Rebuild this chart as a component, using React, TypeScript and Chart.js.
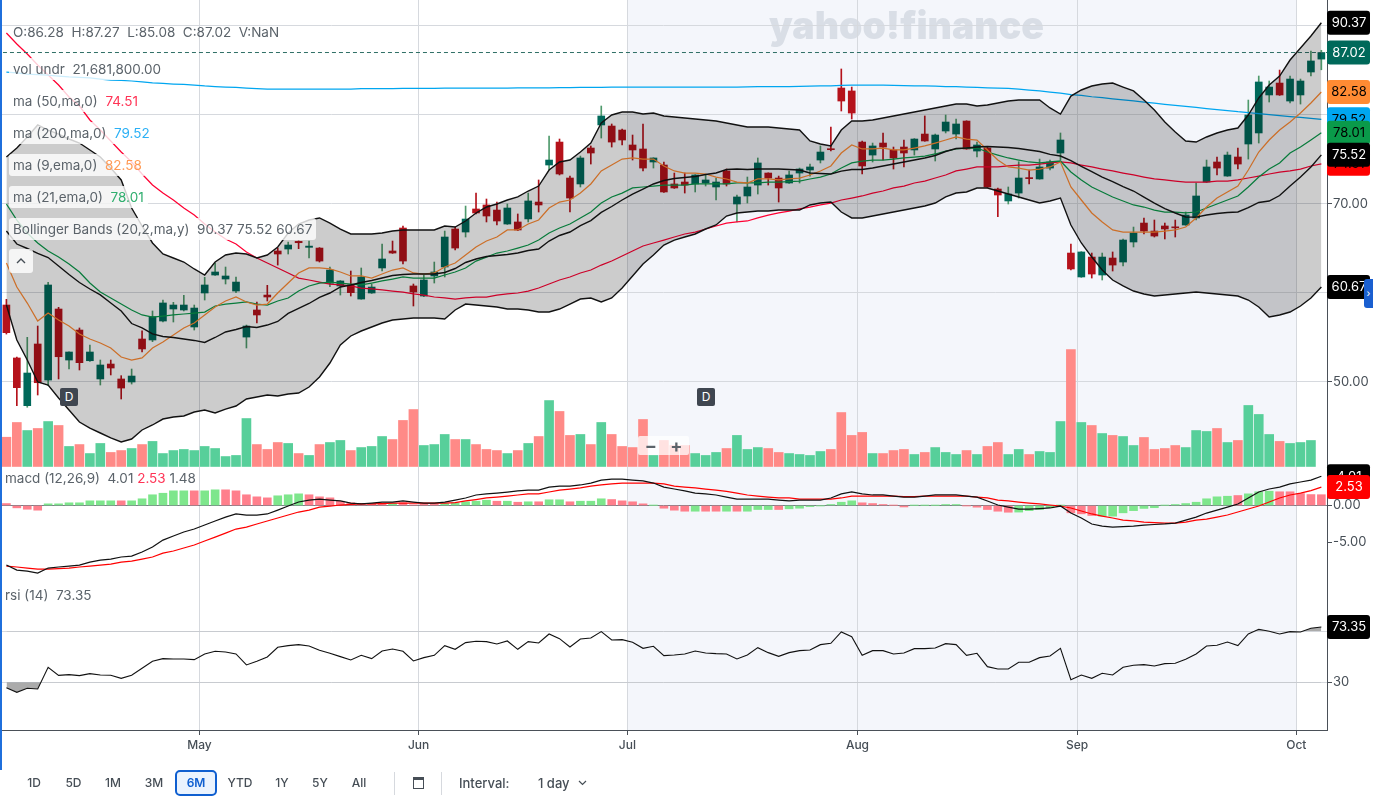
import React, { useEffect, useRef } from 'react';
import { Chart, registerables } from 'chart.js';

Chart.register(...registerables);

const FONT = 'Inter, "Noto Sans", sans-serif';

const opens = [
  58.65, 52.7, 47.34, 54.27, 50.22, 58.2, 52.47, 55.84, 52.39, 50.34,
  52.02, 50.34, 50.0, 54.83, 54.72, 56.85, 58.2, 58.09, 56.18, 60.0,
  62.02, 61.57, 60.22, 55.05, 58.09, 59.77, 64.72, 64.94, 65.8, 65.13,
  65.05, 61.09, 60.79, 60.9, 59.32, 60.0, 62.81, 64.72, 67.3, 60.79,
  59.66, 61.91, 62.92, 67.19, 66.85, 69.44, 69.89, 69.32, 67.75, 67.98,
  68.32, 70.22, 74.38, 76.96, 72.92, 72.25, 76.29, 78.88, 78.76, 78.31,
  76.63, 76.18, 74.72, 74.38, 72.25, 72.47, 72.25, 72.36, 71.91, 73.71,
  70.0, 70.9, 72.13, 73.48, 72.92, 72.36, 73.48, 73.82, 74.94, 76.19,
  83.03, 82.7, 76.96, 75.5, 76.85, 76.07, 76.4, 76.07, 77.86, 76.18,
  78.2, 77.86, 79.32, 75.95, 76.29, 71.68, 70.34, 71.23, 72.92, 72.81,
  74.04, 75.73, 64.49, 61.8, 64.04, 62.02, 63.93, 63.48, 65.73, 67.86,
  66.96, 67.53, 67.36, 67.64, 68.43, 72.47, 74.72, 73.14, 75.28, 76.74,
  77.98, 82.25, 83.59, 81.57, 82.25, 84.83, 86.28,
];
const highs = [
  59.29, 52.8, 55.02, 56.29, 61.2, 58.39, 53.4, 56.07, 54.16, 52.47,
  52.47, 50.71, 51.46, 55.76, 57.98, 59.21, 58.95, 59.74, 58.65, 61.76,
  63.37, 62.92, 61.8, 56.4, 58.99, 60.86, 65.05, 65.72, 65.85, 65.84,
  65.1, 62.92, 61.4, 62.47, 62.81, 60.98, 65.5, 65.84, 67.53, 61.01,
  62.02, 63.48, 66.96, 67.42, 69.77, 71.23, 70.56, 70.22, 70.0, 68.88,
  71.23, 72.7, 77.64, 77.3, 73.14, 75.39, 76.52, 81.01, 78.99, 78.43,
  77.75, 78.99, 75.2, 74.72, 73.48, 73.48, 73.3, 73.26, 72.92, 73.93,
  71.01, 73.03, 75.17, 73.5, 73.14, 73.71, 74.04, 74.49, 76.52, 78.65,
  85.17, 83.14, 77.08, 76.85, 77.98, 76.4, 77.19, 77.35, 79.89, 77.86,
  80.0, 79.55, 79.35, 76.96, 76.4, 71.8, 71.91, 74.75, 73.82, 75.05,
  74.94, 77.98, 65.5, 64.65, 64.49, 64.49, 64.61, 66.07, 67.41, 68.43,
  68.2, 67.86, 68.2, 69.1, 72.36, 74.94, 75.28, 75.84, 76.29, 81.68,
  84.38, 83.82, 85.05, 84.38, 84.04, 87.19, 87.27,
];
const lows = [
  55.39, 47.34, 47.16, 48.54, 49.58, 50.34, 51.46, 51.35, 52.3, 49.66,
  50.79, 48.09, 49.77, 53.37, 54.53, 56.74, 56.74, 57.98, 55.84, 59.21,
  61.97, 61.01, 60.04, 53.82, 56.63, 59.1, 63.14, 64.38, 64.98, 63.93,
  63.48, 60.71, 59.77, 59.66, 59.3, 59.95, 62.47, 64.45, 63.26, 58.54,
  59.6, 61.12, 61.8, 64.83, 66.29, 68.88, 67.98, 67.64, 67.7, 67.0,
  67.98, 69.1, 73.82, 73.26, 69.1, 71.91, 74.49, 77.41, 76.4, 76.63,
  74.94, 73.71, 74.04, 71.3, 71.75, 71.23, 71.35, 72.02, 70.45, 72.02,
  67.98, 70.11, 71.12, 72.13, 70.22, 72.3, 72.36, 73.14, 74.61, 75.95,
  80.45, 79.55, 73.37, 74.72, 74.94, 73.93, 74.16, 75.5, 77.05, 74.83,
  77.98, 77.3, 76.15, 75.28, 71.85, 68.57, 70.0, 70.67, 72.25, 72.78,
  73.82, 74.94, 62.58, 61.75, 61.68, 61.46, 62.47, 63.03, 65.17, 66.63,
  66.29, 66.07, 66.29, 67.6, 68.2, 72.4, 73.26, 73.1, 73.93, 75.05,
  76.85, 81.46, 82.2, 81.35, 81.23, 84.38, 85.08,
];
const closes = [
  55.54, 49.36, 51.01, 49.92, 60.9, 52.84, 53.37, 52.17, 53.37, 51.91,
  51.57, 49.32, 50.67, 53.71, 57.34, 58.88, 58.65, 58.65, 58.31, 60.9,
  62.36, 61.91, 61.23, 56.29, 57.53, 59.55, 64.38, 65.39, 65.65, 65.27,
  63.59, 62.58, 61.35, 60.04, 61.8, 60.67, 63.82, 64.49, 63.59, 60.11,
  61.46, 62.36, 66.29, 65.05, 68.31, 68.99, 68.65, 68.09, 69.55, 67.08,
  70.34, 69.89, 74.94, 73.37, 70.67, 75.17, 75.73, 79.89, 76.96, 77.19,
  76.07, 74.04, 75.17, 71.35, 71.8, 72.13, 73.26, 72.7, 72.47, 72.25,
  70.79, 71.91, 74.61, 72.92, 71.8, 73.26, 73.93, 74.16, 75.84, 76.1,
  81.57, 80.22, 74.27, 76.52, 76.4, 75.17, 75.73, 77.3, 77.08, 77.75,
  79.21, 78.99, 76.18, 76.63, 71.91, 71.01, 71.12, 72.92, 72.85, 74.16,
  74.72, 77.19, 62.7, 64.61, 62.13, 64.04, 63.14, 65.95, 66.74, 66.96,
  66.4, 67.19, 67.32, 68.76, 70.9, 74.16, 74.04, 75.5, 74.49, 80.0,
  83.71, 83.14, 82.25, 84.04, 83.82, 86.07, 87.02,
];

const bbUpper = [
  75.28, 76.29, 77.53, 78.88, 78.31, 77.86, 77.3, 76.85, 76.07, 75.28,
  74.04, 72.7, 69.55, 67.53, 65.62, 64.38, 63.93, 63.48, 62.7, 62.02,
  63.48, 64.27, 64.49, 64.38, 63.93, 64.27, 65.17, 66.74, 67.75, 68.2,
  68.43, 67.86, 67.19, 66.63, 66.63, 66.63, 66.74, 66.96, 67.08, 67.08,
  67.08, 67.08, 67.53, 67.41, 68.09, 68.99, 69.66, 70.0, 70.45, 70.79,
  71.46, 72.02, 73.82, 74.72, 74.94, 75.84, 76.85, 79.1, 80.0, 80.34,
  80.34, 80.11, 80.22, 79.89, 79.77, 79.66, 79.55, 79.44, 79.32, 79.1,
  78.88, 78.65, 78.65, 78.65, 78.54, 78.43, 78.31, 77.08, 76.74, 76.52,
  78.31, 79.32, 79.32, 79.44, 79.66, 79.89, 80.11, 80.34, 80.56, 80.79,
  81.01, 81.23, 81.23, 81.01, 81.12, 81.35, 81.57, 81.68, 81.68, 81.68,
  80.79, 80.11, 82.13, 82.81, 83.26, 83.48, 83.59, 83.14, 82.7, 81.68,
  80.56, 79.21, 78.09, 77.08, 76.96, 77.53, 77.98, 78.31, 78.54, 80.0,
  81.91, 83.37, 84.38, 86.18, 87.53, 88.87, 90.37,
];
const bbMiddle = [
  66.97, 65.5, 65.0, 64.44, 63.98, 63.03, 62.08, 61.18, 60.45, 59.78,
  58.88, 57.98, 56.57, 56.07, 55.4, 55.11, 55.0, 54.83, 54.67, 54.44,
  55.0, 55.62, 55.9, 56.24, 56.12, 56.4, 56.8, 57.7, 58.26, 58.82,
  59.5, 60.0, 60.68, 60.9, 61.18, 61.4, 61.68, 61.96, 62.08, 62.14,
  62.14, 62.14, 62.3, 62.75, 63.43, 63.82, 64.1, 64.22, 64.33, 64.5,
  64.78, 64.94, 65.84, 66.46, 66.85, 67.58, 68.14, 69.05, 69.72, 70.45,
  71.12, 71.68, 72.25, 72.64, 72.86, 72.98, 73.09, 73.32, 73.48, 73.88,
  73.94, 73.88, 73.93, 73.93, 73.93, 73.88, 73.82, 73.48, 73.43, 73.37,
  73.7, 73.88, 73.88, 74.05, 74.27, 74.5, 74.72, 74.95, 75.17, 75.45,
  75.9, 76.23, 76.29, 76.4, 76.46, 76.4, 76.35, 76.23, 76.07, 75.9,
  75.57, 75.39, 74.88, 74.22, 73.65, 73.03, 72.52, 71.96, 71.46, 70.78,
  70.11, 69.49, 68.99, 68.54, 68.53, 68.76, 68.93, 69.04, 69.1, 69.6,
  70.17, 70.33, 70.95, 72.02, 73.03, 74.15, 75.52,
];
const bbLower = [
  58.65, 54.72, 52.47, 50.0, 49.66, 48.2, 46.85, 45.5, 44.83, 44.27,
  43.71, 43.26, 43.59, 44.61, 45.17, 45.84, 46.07, 46.18, 46.63, 46.85,
  46.52, 46.96, 47.3, 48.09, 48.31, 48.54, 48.43, 48.65, 48.76, 49.44,
  50.56, 52.13, 54.16, 55.17, 55.73, 56.18, 56.63, 56.96, 57.08, 57.19,
  57.19, 57.19, 57.08, 58.09, 58.76, 58.65, 58.54, 58.43, 58.2, 58.2,
  58.09, 57.86, 57.86, 58.2, 58.76, 59.32, 59.44, 58.99, 59.44, 60.56,
  61.91, 63.26, 64.27, 65.39, 65.95, 66.29, 66.63, 67.19, 67.64, 68.65,
  68.99, 69.1, 69.21, 69.21, 69.32, 69.32, 69.32, 69.89, 70.11, 70.22,
  69.1, 68.43, 68.43, 68.65, 68.88, 69.1, 69.32, 69.55, 69.77, 70.11,
  70.79, 71.23, 71.35, 71.8, 71.8, 71.46, 71.12, 70.79, 70.45, 70.11,
  70.34, 70.67, 67.64, 65.62, 64.04, 62.58, 61.46, 60.79, 60.22, 59.89,
  59.66, 59.77, 59.89, 60.0, 60.11, 60.0, 59.89, 59.77, 59.66, 59.21,
  58.43, 57.3, 57.53, 57.86, 58.54, 59.44, 60.67,
];
const ma50 = [
  89.21, 87.98, 86.85, 85.62, 84.49, 83.37, 82.02, 81.01, 79.44, 78.31,
  77.08, 75.84, 74.72, 73.37, 72.13, 71.23, 70.45, 69.55, 68.76, 67.75,
  66.85, 66.07, 65.5, 64.61, 63.93, 63.37, 62.81, 62.25, 61.68, 61.46,
  61.23, 61.01, 60.9, 60.79, 60.56, 60.45, 60.34, 60.22, 60.11, 59.89,
  59.77, 59.55, 59.44, 59.32, 59.44, 59.55, 59.55, 59.77, 59.89, 60.0,
  60.22, 60.56, 61.01, 61.46, 61.8, 62.25, 62.58, 63.14, 63.59, 64.16,
  64.72, 65.28, 65.62, 65.95, 66.29, 66.63, 66.85, 67.19, 67.53, 67.86,
  67.98, 68.09, 68.43, 68.76, 68.99, 69.21, 69.44, 69.66, 69.89, 70.11,
  70.45, 70.67, 70.9, 71.23, 71.46, 71.8, 72.02, 72.36, 72.58, 72.92,
  73.26, 73.71, 73.93, 74.16, 74.16, 74.16, 74.27, 74.38, 74.38, 74.49,
  74.61, 74.72, 74.61, 74.38, 74.16, 73.93, 73.71, 73.48, 73.26, 73.03,
  72.81, 72.7, 72.58, 72.47, 72.47, 72.47, 72.58, 72.58, 72.7, 72.92,
  73.14, 73.37, 73.59, 73.71, 73.93, 74.27, 74.51,
];
const ma200 = [
  84.83, 84.72, 84.6, 84.55, 84.49, 84.38, 84.27, 84.22, 84.16, 84.04,
  83.93, 83.88, 83.82, 83.71, 83.6, 83.54, 83.48, 83.43, 83.37, 83.26,
  83.2, 83.14, 83.09, 83.03, 82.97, 82.92, 82.92, 82.92, 82.92, 82.92,
  82.92, 82.92, 82.92, 82.92, 82.95, 82.95, 82.97, 82.97, 83.0, 83.0,
  83.0, 83.0, 83.03, 83.03, 83.03, 83.03, 83.03, 83.03, 83.03, 83.05,
  83.05, 83.05, 83.05, 83.07, 83.07, 83.09, 83.09, 83.1, 83.12, 83.14,
  83.14, 83.14, 83.14, 83.14, 83.14, 83.14, 83.14, 83.14, 83.14, 83.14,
  83.14, 83.16, 83.18, 83.18, 83.2, 83.2, 83.22, 83.24, 83.26, 83.28,
  83.32, 83.35, 83.37, 83.37, 83.35, 83.32, 83.3, 83.28, 83.26, 83.24,
  83.2, 83.18, 83.14, 83.1, 83.06, 83.03, 82.98, 82.9, 82.8, 82.7,
  82.58, 82.47, 82.3, 82.2, 82.05, 81.95, 81.82, 81.7, 81.6, 81.45,
  81.33, 81.2, 81.08, 80.97, 80.85, 80.72, 80.6, 80.5, 80.37, 80.28,
  80.15, 80.03, 79.92, 79.82, 79.72, 79.62, 79.52,
];
const ema9 = [
  63.37, 60.67, 58.87, 56.85, 57.75, 56.96, 56.29, 55.39, 54.83, 54.38,
  53.82, 52.81, 52.47, 52.7, 53.82, 54.49, 55.28, 56.07, 56.63, 57.53,
  58.43, 59.1, 59.55, 58.99, 58.65, 58.76, 60.0, 61.12, 62.25, 62.81,
  62.81, 62.7, 62.36, 61.91, 61.91, 61.68, 62.13, 62.58, 62.81, 62.25,
  62.13, 62.25, 62.92, 63.37, 64.27, 65.17, 65.84, 66.29, 67.08, 67.08,
  67.75, 68.2, 69.55, 70.22, 70.45, 71.23, 72.25, 73.71, 74.38, 75.05,
  75.17, 75.05, 75.05, 74.27, 73.71, 73.48, 73.48, 73.37, 73.03, 72.81,
  72.47, 72.36, 72.81, 72.81, 72.7, 72.81, 72.92, 73.26, 73.71, 74.27,
  75.73, 76.63, 76.18, 76.18, 76.29, 76.07, 76.07, 76.29, 76.52, 76.85,
  77.19, 77.53, 77.3, 77.19, 76.07, 74.94, 74.16, 74.04, 73.82, 73.93,
  74.16, 74.72, 71.91, 70.45, 68.99, 67.98, 67.08, 66.85, 66.85, 66.85,
  66.85, 66.96, 67.08, 67.41, 68.43, 69.66, 70.67, 71.35, 72.02, 73.82,
  75.84, 77.19, 78.31, 79.21, 80.22, 81.35, 82.58,
];
const ema21 = [
  70.0, 68.2, 66.74, 65.62, 64.72, 64.04, 63.26, 62.36, 61.12, 60.11,
  59.44, 58.76, 58.09, 57.53, 57.3, 57.41, 57.53, 57.64, 57.75, 57.86,
  58.54, 58.76, 58.87, 58.99, 58.76, 58.65, 59.1, 59.44, 60.22, 60.79,
  61.12, 61.23, 61.12, 61.01, 60.9, 61.12, 61.35, 61.57, 61.8, 61.68,
  61.68, 61.68, 62.02, 62.36, 62.81, 63.59, 64.04, 64.49, 64.72, 65.05,
  65.39, 65.95, 66.74, 67.3, 67.75, 68.43, 69.1, 70.11, 70.79, 71.23,
  71.8, 71.91, 72.02, 72.13, 72.13, 72.13, 72.25, 72.25, 72.25, 72.25,
  72.36, 72.36, 72.36, 72.47, 72.47, 72.52, 72.58, 72.81, 73.03, 73.37,
  74.04, 74.61, 74.83, 74.94, 74.94, 75.05, 75.17, 75.28, 75.39, 75.62,
  75.95, 76.18, 76.29, 76.29, 75.84, 75.5, 75.17, 74.94, 74.72, 74.61,
  74.72, 74.83, 73.59, 72.7, 71.91, 71.35, 70.79, 70.34, 69.89, 69.66,
  69.32, 69.1, 69.1, 68.99, 69.1, 69.55, 70.0, 70.45, 70.9, 71.91,
  73.03, 73.93, 74.61, 75.73, 76.4, 77.19, 78.01,
];

// millions of shares, the last session has no volume yet
const volumes = [
  24.4, 36.7, 30.0, 31.7, 37.5, 34.2, 16.7, 18.3, 10.8, 19.2,
  11.7, 13.3, 15.0, 18.3, 20.9, 10.8, 13.3, 14.2, 13.3, 16.7,
  15.0, 8.3, 9.2, 40.0, 18.3, 14.2, 20.0, 19.2, 10.8, 9.2,
  18.3, 20.0, 21.7, 13.3, 15.8, 16.7, 25.0, 22.5, 38.4, 47.5,
  17.5, 18.3, 26.7, 22.5, 22.5, 18.3, 14.2, 13.3, 10.8, 13.3,
  19.2, 25.0, 55.0, 45.9, 25.9, 26.7, 18.3, 36.7, 26.7, 16.7,
  15.8, 39.2, 9.2, 21.7, 17.5, 17.5, 10.8, 9.2, 11.7, 15.0,
  25.9, 14.2, 15.8, 15.0, 11.7, 10.8, 10.0, 9.2, 12.5, 14.2,
  45.0, 25.9, 28.4, 10.8, 10.8, 13.3, 14.2, 10.0, 11.7, 15.8,
  11.7, 10.0, 13.3, 10.0, 16.7, 20.0, 10.0, 14.2, 10.0, 12.5,
  11.7, 37.5, 97.6, 36.7, 34.2, 27.5, 25.9, 25.0, 17.5, 24.2,
  14.2, 15.0, 17.5, 15.8, 30.0, 29.2, 31.7, 20.0, 21.7, 50.9,
  43.4, 26.7, 20.9, 19.2, 20.0, 21.68, null,
];

const macdLine = [
  -8.15, -8.84, -8.97, -9.25, -8.56, -8.42, -8.29, -8.15, -7.74, -7.47,
  -7.33, -7.05, -6.92, -6.37, -5.68, -4.73, -4.18, -3.63, -3.22, -2.67,
  -2.12, -1.58, -1.16, -1.3, -1.3, -1.16, -0.62, -0.07, 0.48, 0.75,
  0.89, 0.75, 0.62, 0.34, 0.21, 0.34, 0.48, 0.48, 0.62, 0.48,
  0.34, 0.34, 0.48, 0.75, 1.03, 1.44, 1.58, 1.71, 1.85, 1.99,
  2.12, 2.12, 2.53, 2.67, 2.67, 2.81, 3.08, 3.49, 3.63, 3.63,
  3.49, 3.36, 3.08, 2.53, 2.26, 1.99, 1.71, 1.58, 1.44, 1.16,
  0.89, 0.89, 0.89, 0.89, 0.75, 0.62, 0.75, 0.75, 0.75, 1.03,
  1.58, 1.85, 1.58, 1.44, 1.44, 1.3, 1.16, 1.16, 1.3, 1.44,
  1.44, 1.44, 1.3, 1.16, 0.62, 0.07, -0.21, -0.48, -0.48, -0.41,
  -0.34, -0.07, -1.03, -1.71, -2.53, -2.81, -2.95, -2.88, -2.81, -2.67,
  -2.6, -2.53, -2.4, -1.99, -1.58, -1.03, -0.62, -0.21, 0.21, 1.03,
  1.85, 2.26, 2.53, 2.95, 3.22, 3.49, 4.01,
];
const macdSignal = [
  -8.29, -8.42, -8.56, -8.7, -8.7, -8.63, -8.56, -8.42, -8.29, -8.15,
  -8.01, -7.74, -7.6, -7.33, -7.05, -6.51, -6.23, -5.82, -5.41, -4.86,
  -4.32, -3.77, -3.22, -2.95, -2.53, -2.12, -1.71, -1.3, -0.89, -0.62,
  -0.21, -0.07, 0.07, 0.14, 0.21, 0.21, 0.27, 0.34, 0.34, 0.34,
  0.34, 0.34, 0.34, 0.41, 0.62, 0.82, 1.03, 1.16, 1.3, 1.44,
  1.58, 1.58, 1.85, 2.12, 2.26, 2.4, 2.67, 2.81, 2.95, 3.08,
  3.08, 3.08, 3.08, 2.95, 2.67, 2.53, 2.4, 2.26, 2.12, 1.92,
  1.71, 1.44, 1.3, 1.16, 1.03, 1.03, 0.89, 0.89, 0.89, 0.89,
  1.03, 1.3, 1.3, 1.3, 1.3, 1.3, 1.23, 1.23, 1.3, 1.3,
  1.3, 1.3, 1.3, 1.16, 1.03, 0.75, 0.62, 0.48, 0.34, 0.21,
  0.07, -0.07, -0.34, -0.75, -1.16, -1.44, -1.71, -1.99, -2.12, -2.26,
  -2.33, -2.4, -2.4, -2.26, -1.99, -1.85, -1.58, -1.3, -0.89, -0.48,
  -0.07, 0.48, 1.03, 1.44, 1.71, 2.05, 2.53,
];
const macdHist = [
  0.27, -0.32, -0.51, -0.64, 0.23, 0.23, 0.37, 0.37, 0.64, 0.64,
  0.64, 0.64, 0.64, 0.92, 1.47, 1.68, 2.01, 2.01, 2.01, 2.01,
  2.15, 2.15, 2.01, 1.47, 1.19, 1.05, 1.33, 1.47, 1.6, 1.47,
  1.19, 1.05, 0.59, 0.37, 0.27, 0.27, 0.27, 0.27, 0.37, 0.1,
  0.23, 0.2, 0.27, 0.37, 0.51, 0.59, 0.73, 0.59, 0.59, 0.45,
  0.51, 0.51, 0.78, 0.78, 0.51, 0.59, 0.59, 0.92, 0.82, 0.64,
  0.51, 0.23, 0.02, -0.37, -0.64, -0.78, -0.78, -0.78, -0.78, -0.78,
  -0.78, -0.78, -0.55, -0.55, -0.55, -0.45, -0.37, -0.15, -0.03, 0.14,
  0.45, 0.64, 0.37, 0.27, 0.14, 0.03, -0.2, 0.02, 0.02, 0.02,
  0.14, 0.14, -0.02, -0.23, -0.55, -0.78, -0.92, -0.9, -0.7, -0.55,
  -0.3, 0.02, -1.0, -1.14, -1.37, -1.46, -1.46, -1.0, -0.7, -0.4,
  -0.3, 0.03, 0.14, 0.27, 0.45, 0.92, 1.19, 1.27, 1.37, 1.6,
  1.88, 1.96, 1.88, 1.88, 1.64, 1.5, 1.48,
];
// sessions whose histogram bar is painted red
const macdHistRed = [
  0, 1, 2, 3, 11, 18, 21, 22, 23, 24, 25, 29, 30, 31, 32, 33, 34, 35, 36, 38, 39, 40, 41,
  47, 49, 51, 54, 58, 59, 60, 61, 63, 64, 65, 67, 68, 70, 74, 82, 83, 84, 85, 86,
  92, 93, 94, 95, 96, 102, 103, 104, 118, 122, 123, 124, 125, 126,
];
const rsi = [
  25.8, 22.1, 25.3, 24.75, 41.74, 35.47, 35.99, 35.2, 36.78, 35.73,
  35.47, 33.11, 35.47, 40.96, 46.45, 48.54, 48.28, 48.28, 47.76, 52.2,
  54.29, 53.77, 52.2, 43.57, 46.45, 49.85, 57.43, 58.74, 59.52, 58.47,
  55.08, 52.72, 50.11, 47.49, 51.15, 48.54, 54.55, 56.12, 54.29, 46.71,
  49.33, 51.15, 58.74, 55.86, 61.09, 62.13, 61.87, 60.04, 62.4, 55.86,
  61.87, 60.83, 67.89, 64.23, 57.69, 63.97, 64.75, 69.72, 63.18, 63.44,
  61.35, 56.64, 58.21, 50.89, 51.42, 52.2, 54.55, 52.98, 52.46, 52.2,
  48.28, 51.42, 57.17, 53.25, 50.37, 53.25, 54.81, 55.34, 59.52, 60.57,
  69.46, 65.8, 51.15, 54.81, 54.81, 52.2, 52.98, 56.38, 56.38, 56.91,
  60.31, 59.52, 51.15, 52.72, 42.27, 40.43, 40.43, 45.66, 45.66, 49.33,
  50.63, 56.64, 32.07, 35.73, 33.11, 37.04, 35.73, 41.74, 43.31, 43.83,
  42.79, 44.62, 44.88, 48.02, 52.2, 58.47, 58.99, 61.61, 58.74, 67.89,
  71.55, 69.98, 67.89, 69.72, 69.46, 72.33, 73.35,
];

const lastClose = 87.02;
const monthLabels = ['May', 'Jun', 'Jul', 'Aug', 'Sep', 'Oct'];
const monthTicks = [18.5, 39.5, 59.5, 81.55, 102.6, 123.6];
const priceTicks = [90, 80, 70, 60, 50];
const macdTicks = [0, -5];
const rsiTicks = [70, 30];
const rangeLabels = ['1D', '5D', '1M', '3M', '6M', 'YTD', '1Y', '5Y', 'All'];

const UP = '#00695a';
const DOWN = '#b5121b';
const isUp = opens.map((o, i) => closes[i] >= o);
const seriesPoints = (values: (number | null)[]) => values.map((y, x) => ({ x, y }));
const lineSet = (label: string, values: number[], color: string, yAxisID: string, order: number, width = 1.25) => ({
  type: 'line' as const,
  label,
  data: seriesPoints(values),
  borderColor: color,
  borderWidth: width,
  pointRadius: 0,
  tension: 0,
  fill: false,
  yAxisID,
  order,
});

const priceTags = [
  { axis: 'yRsi', value: 73.35, bg: '#000000', fg: '#ffffff' },
  { axis: 'yMacd', value: 4.01, bg: '#000000', fg: '#ffffff' },
  { axis: 'yMacd', value: 2.53, bg: '#ff0000', fg: '#ffffff' },
  { axis: 'yPrice', value: 90.37, bg: '#000000', fg: '#ffffff' },
  { axis: 'yPrice', value: lastClose, bg: '#00695a', fg: '#ffffff' },
  { axis: 'yPrice', value: 82.58, bg: '#ff8b33', fg: '#000000' },
  { axis: 'yPrice', value: 79.52, bg: '#00a6f0', fg: '#000000' },
  { axis: 'yPrice', value: 74.51, bg: '#ff0000', fg: '#000000' },
  { axis: 'yPrice', value: 78.01, bg: '#0a9a4a', fg: '#000000' },
  { axis: 'yPrice', value: 75.52, bg: '#000000', fg: '#ffffff' },
  { axis: 'yPrice', value: 60.67, bg: '#000000', fg: '#ffffff' },
];

const backdropPlugin = {
  id: 'backdrop',
  beforeDraw(chart: any) {
    const { ctx, chartArea, scales } = chart;
    const from = scales.x.getPixelForValue(monthTicks[2]);
    const to = scales.x.getPixelForValue(monthTicks[5]);
    ctx.save();
    ctx.fillStyle = '#f4f6fb';
    ctx.fillRect(from, chartArea.top, to - from, chartArea.bottom - chartArea.top);
    ctx.fillStyle = '#d9dee6';
    ctx.font = `900 38px ${FONT}`;
    ctx.textBaseline = 'middle';
    ctx.fillText('yahoo!finance', 769, 28, 275);
    ctx.restore();
  },
};

const tagPlugin = {
  id: 'tags',
  afterDraw(chart: any) {
    const { ctx, scales, chartArea } = chart;
    ctx.save();
    ctx.font = `13px ${FONT}`;
    ctx.textBaseline = 'middle';
    ctx.textAlign = 'center';
    priceTags.forEach((tag) => {
      const y = scales[tag.axis].getPixelForValue(tag.value);
      ctx.fillStyle = tag.bg;
      ctx.beginPath();
      ctx.roundRect(chartArea.right, y - 12, 43, 24, 3);
      ctx.fill();
      ctx.fillStyle = tag.fg;
      ctx.fillText(tag.value.toFixed(2), chartArea.right + 22, y + 0.5);
    });
    ctx.restore();
  },
};

const legendRow: React.CSSProperties = {
  position: 'absolute',
  left: 9,
  height: 22,
  lineHeight: '22px',
  padding: '0 4px',
  borderRadius: 3,
  background: 'rgba(255,255,255,0.8)',
  whiteSpace: 'pre',
  color: '#5b636a',
  fontSize: 13.5,
};

const Legend = ({ top, label, values }: { top: number; label: string; values: [string, string][] }) => (
  <div style={{ ...legendRow, top }}>
    {label}
    {values.map(([text, color], i) => (
      <span key={i} style={{ color }}>{(i === 0 ? '  ' : ' ') + text}</span>
    ))}
  </div>
);

const App: React.FC = () => {
  const canvasRef = useRef<HTMLCanvasElement | null>(null);

  useEffect(() => {
    if (!canvasRef.current) return;
    const gridColor = '#d6d9de';
    const axisColor = '#4a5058';
    const tickFont = { family: FONT, size: 13 };

    const yAxis = (stackWeight: number, weight: number, min: number, max: number, values: number[], decimals: number, zeroLine: boolean) => ({
      type: 'linear' as const,
      position: 'right' as const,
      stack: 'panes',
      stackWeight,
      weight,
      min,
      max,
      afterBuildTicks: (scale: any) => {
        scale.ticks = values.map((value) => ({ value }));
      },
      afterFit: (scale: any) => {
        scale.width = 46;
        scale.paddingTop = 0;
        scale.paddingBottom = 0;
      },
      border: { color: axisColor, width: 1 },
      grid: {
        color: (c: any) => (zeroLine ? (c.tick?.value === 0 ? '#7a7f86' : 'rgba(0,0,0,0)') : gridColor),
        tickColor: axisColor,
        tickLength: 5,
      },
      ticks: {
        autoSkip: false,
        padding: 1,
        color: '#464e56',
        font: tickFont,
        callback: (v: any) => Number(v).toFixed(decimals),
      },
    });

    const chart = new Chart(canvasRef.current, {
      type: 'bar',
      data: {
        datasets: [
          {
            label: 'Volume',
            data: seriesPoints(volumes),
            backgroundColor: isUp.map((u) => (u ? '#57cf9a' : '#ff8a87')),
            barThickness: 9,
            grouped: false,
            yAxisID: 'yVolume',
            order: 30,
          },
          {
            label: 'MACD histogram',
            data: seriesPoints(macdHist),
            backgroundColor: macdHist.map((_, i) => (macdHistRed.includes(i) ? '#ff7f8c' : '#7ee68c')),
            barThickness: 8,
            grouped: false,
            yAxisID: 'yMacd',
            order: 29,
          },
          {
            label: 'Wicks',
            data: lows.map((l, x) => ({ x, y: [l, highs[x]] })),
            backgroundColor: isUp.map((u) => (u ? '#4f9a6c' : DOWN)),
            barThickness: 1,
            grouped: false,
            yAxisID: 'yPrice',
            order: 28,
          },
          {
            label: 'Candles',
            data: opens.map((o, x) => ({ x, y: [o, closes[x]] })),
            backgroundColor: isUp.map((u) => (u ? UP : DOWN)),
            barThickness: 7,
            minBarLength: 1,
            grouped: false,
            yAxisID: 'yPrice',
            order: 27,
          },
          lineSet('ma 50', ma50, '#ff0033', 'yPrice', 26),
          lineSet('ma 200', ma200, '#00a6f0', 'yPrice', 25),
          lineSet('ema 21', ema21, '#0a9a4a', 'yPrice', 24),
          lineSet('ema 9', ema9, '#ff8b33', 'yPrice', 23),
          {
            type: 'line',
            label: 'Last close',
            data: [{ x: -1, y: lastClose }, { x: 127, y: lastClose }],
            borderColor: '#2f6f66',
            borderWidth: 1,
            borderDash: [4, 3],
            pointRadius: 0,
            yAxisID: 'yPrice',
            order: 22,
          },
          {
            ...lineSet('bb upper', bbUpper, '#111111', 'yPrice', 21, 1.4),
            fill: '+1',
            backgroundColor: 'rgba(0,0,0,0.2)',
          },
          lineSet('bb lower', bbLower, '#111111', 'yPrice', 20, 1.4),
          lineSet('bb middle', bbMiddle, '#111111', 'yPrice', 19, 1.4),
          lineSet('signal', macdSignal, '#ff0000', 'yMacd', 11),
          lineSet('macd', macdLine, '#111111', 'yMacd', 10),
          {
            ...lineSet('rsi', rsi, '#111111', 'yRsi', 5, 1.1),
            fill: { target: { value: 30 }, above: 'rgba(0,0,0,0)', below: 'rgba(0,0,0,0.33)' },
          },
          {
            ...lineSet('rsi high', rsi, 'rgba(0,0,0,0)', 'yRsi', 6, 0),
            fill: { target: { value: 70 }, above: 'rgba(0,0,0,0.33)', below: 'rgba(0,0,0,0)' },
          },
        ] as any,
      },
      options: {
        responsive: false,
        animation: false,
        devicePixelRatio: 1,
        layout: { padding: 0 },
        plugins: {
          legend: { display: false },
          tooltip: { enabled: false },
          filler: { drawTime: 'beforeDatasetDraw' },
        } as any,
        scales: {
          x: {
            type: 'linear',
            position: 'bottom',
            offset: false,
            min: -0.613,
            max: 126.54,
            afterBuildTicks: (scale: any) => {
              scale.ticks = monthTicks.map((value) => ({ value }));
            },
            afterFit: (scale: any) => {
              scale.height = 67;
              scale.paddingLeft = 0;
              scale.paddingRight = 0;
            },
            border: { color: axisColor, width: 1 },
            grid: { offset: false, color: gridColor, tickColor: axisColor, tickLength: 5 },
            ticks: {
              autoSkip: false,
              maxRotation: 0,
              padding: 3,
              color: '#464e56',
              font: { family: FONT, size: 12, weight: 500 },
              callback: (v: any) => monthLabels[monthTicks.indexOf(Number(v))],
            },
          },
          yPrice: yAxis(468, 0, 40.337, 92.921, priceTicks, 2, false),
          yMacd: yAxis(112, 1, -10.2, 5.137, macdTicks, 2, true),
          yRsi: yAxis(150, 2, -7.4, 110.2, rsiTicks, 0, false),
          yVolume: { type: 'linear', display: false, position: 'right', min: -219.8, max: 389.1 },
        } as any,
      },
      plugins: [backdropPlugin, tagPlugin],
    });

    return () => {
      chart.destroy();
    };
  }, []);

  const plain: React.CSSProperties = { position: 'absolute', whiteSpace: 'pre', color: '#5b636a', fontSize: 13.5 };
  const toolX = [34, 73.5, 113, 154, 196, 240, 282, 320, 359];

  return (
    <div style={{ position: 'absolute', left: 0, top: 0, width: 1373, height: 797, overflow: 'hidden', fontFamily: FONT, background: '#fff' }}>
      <canvas ref={canvasRef} width={1373} height={797} style={{ display: 'block' }} />

      <div style={{ position: 'absolute', left: 0, top: 0, width: 2, height: 770, background: '#1f6fdc' }} />

      <div style={{ ...plain, left: 13, top: 24 }}>{'O:86.28  H:87.27  L:85.08  C:87.02  V:NaN'}</div>
      <Legend top={58} label="vol undr" values={[['21,681,800.00', '#5b636a']]} />
      <Legend top={90} label="ma (50,ma,0)" values={[['74.51', '#ff3355']]} />
      <Legend top={122} label="ma (200,ma,0)" values={[['79.52', '#2bb0f5']]} />
      <Legend top={154} label="ma (9,ema,0)" values={[['82.58', '#ff9a55']]} />
      <Legend top={186} label="ma (21,ema,0)" values={[['78.01', '#2fae6e']]} />
      <Legend top={218} label="Bollinger Bands (20,2,ma,y)" values={[['90.37', '#5b636a'], ['75.52', '#5b636a'], ['60.67', '#5b636a']]} />

      <div style={{ position: 'absolute', left: 9, top: 249, width: 24, height: 24, borderRadius: 3, background: 'rgba(255,255,255,0.8)' }}>
        <svg width="24" height="24"><path d="M8 14 L12 10 L16 14" fill="none" stroke="#464e56" strokeWidth="1.4" /></svg>
      </div>

      <div style={{ ...plain, left: 5, top: 470 }}>
        {'macd (12,26,9)  4.01 '}<span style={{ color: '#ff3355' }}>2.53</span>{' 1.48'}
      </div>
      <div style={{ ...plain, left: 5, top: 587 }}>{'rsi (14)  73.35'}</div>

      {[60, 697].map((left) => (
        <div key={left} style={{ position: 'absolute', left, top: 388, width: 18, height: 18, background: '#3f4650', color: '#fff', fontSize: 12, lineHeight: '18px', textAlign: 'center', borderRadius: 2 }}>D</div>
      ))}

      <div style={{ position: 'absolute', left: 638, top: 436, width: 51, height: 19, background: 'rgba(255,255,255,0.75)', borderRadius: 2, color: '#5b636a', fontSize: 18, fontWeight: 700, lineHeight: '19px', display: 'flex', justifyContent: 'space-around' }}>
        <span>−</span><span>+</span>
      </div>

      <div style={{ position: 'absolute', left: 1364, top: 279, width: 9, height: 29, background: '#1a5fd0', borderRadius: '3px 0 0 3px', color: '#fff', fontSize: 10, lineHeight: '29px', textAlign: 'center' }}>›</div>

      <div style={{ position: 'absolute', left: 175, top: 770, width: 38, height: 22, border: '2px solid #0f5fd0', borderRadius: 5, background: '#eaf3fe' }} />
      {rangeLabels.map((label, i) => (
        <div key={label} style={{ position: 'absolute', left: toolX[i] - 20, width: 40, top: 775, textAlign: 'center', fontSize: 12, lineHeight: '16px', fontWeight: i === 4 ? 600 : 500, color: i === 4 ? '#0f5fd0' : '#464e56' }}>{label}</div>
      ))}
      <div style={{ position: 'absolute', left: 394, top: 772, width: 1, height: 23, background: '#d6d9de' }} />
      <div style={{ position: 'absolute', left: 413, top: 777, width: 9, height: 8, border: '1px solid #464e56', borderTop: '3px solid #464e56' }} />
      <div style={{ position: 'absolute', left: 441, top: 772, width: 1, height: 23, background: '#d6d9de' }} />
      <div style={{ position: 'absolute', left: 459, top: 775, fontSize: 13, lineHeight: '16px', fontWeight: 500, color: '#464e56' }}>Interval:</div>
      <div style={{ position: 'absolute', left: 538, top: 775, fontSize: 13, lineHeight: '16px', fontWeight: 500, color: '#464e56' }}>1 day</div>
      <svg style={{ position: 'absolute', left: 578, top: 779 }} width="9" height="8"><path d="M1 2 L4.5 5.5 L8 2" fill="none" stroke="#464e56" strokeWidth="1.2" /></svg>
    </div>
  );
};

export default App;
